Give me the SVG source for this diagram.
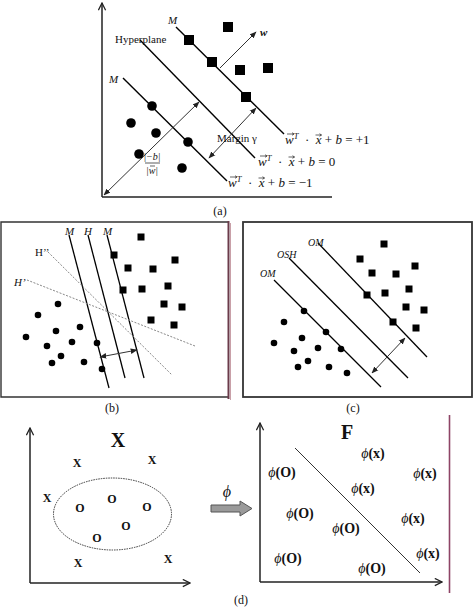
<svg xmlns="http://www.w3.org/2000/svg" width="474" height="610" viewBox="0 0 474 610">
  <style>
    .serif { font-family: "Liberation Serif", "DejaVu Serif", serif; fill: #111; }
    .it { font-style: italic; }
    .bold { font-weight: bold; }
    .axis { stroke: #222; stroke-width: 1.5; fill: none; }
    .thin { stroke: #333; stroke-width: 1; fill: none; }
    .dots { stroke: #888; stroke-width: 1; stroke-dasharray: 2 1.5; fill: none; }
    .sq { fill: #000; }
    .pt { fill: #000; }
    .frame { fill: none; stroke: #333; stroke-width: 1.8; }
    .vec { stroke: #222; stroke-width: 0.7; fill: none; }
  </style>
  <defs>
    <marker id="head" viewBox="0 0 10 10" refX="9" refY="5" markerWidth="7" markerHeight="7" orient="auto-start-reverse" markerUnits="userSpaceOnUse">
      <path d="M0,1 L10,5 L0,9 Z" fill="#222"/>
    </marker>
    <marker id="open" viewBox="0 0 10 10" refX="9" refY="5" markerWidth="9" markerHeight="9" orient="auto" markerUnits="userSpaceOnUse">
      <path d="M1,1 L9,5 L1,9" fill="none" stroke="#222" stroke-width="1.4"/>
    </marker>
  </defs>

  <rect width="474" height="610" fill="#fff"/>

  <!-- (a) maximum-margin hyperplane -->
  <g id="panel-a">
    <line class="axis" x1="102" y1="197" x2="102" y2="3" marker-end="url(#open)"/>
    <line class="axis" x1="102" y1="197" x2="332" y2="197"/>

    <g id="a-lines" stroke="#000" stroke-width="1.4">
      <line x1="176" y1="27" x2="284" y2="134"/>
      <line x1="140" y1="40" x2="255" y2="158"/>
      <line x1="123" y1="78" x2="227" y2="181"/>
    </g>
    <g id="a-arrows">
      <line class="thin" x1="220" y1="68" x2="256" y2="32" marker-end="url(#head)"/>
      <line class="thin" x1="104" y1="195" x2="199" y2="102" marker-start="url(#head)" marker-end="url(#head)"/>
      <line class="thin" x1="209" y1="158" x2="256" y2="108" marker-start="url(#head)" marker-end="url(#head)"/>
    </g>
    <g id="a-squares">
      <rect class="sq" x="184" y="35" width="10" height="10"/>
      <rect class="sq" x="223" y="22" width="10" height="10"/>
      <rect class="sq" x="207" y="57" width="10" height="10"/>
      <rect class="sq" x="235" y="65" width="10" height="10"/>
      <rect class="sq" x="263" y="63" width="10" height="10"/>
      <rect class="sq" x="241" y="92" width="10" height="10"/>
    </g>
    <g id="a-circles">
      <circle class="pt" cx="152" cy="106" r="4.8"/>
      <circle class="pt" cx="131" cy="123" r="4.8"/>
      <circle class="pt" cx="156" cy="133" r="4.8"/>
      <circle class="pt" cx="188" cy="142" r="4.8"/>
      <circle class="pt" cx="139" cy="154" r="4.8"/>
      <circle class="pt" cx="182" cy="168" r="4.8"/>
    </g>
    <g id="a-labels" font-size="11">
      <text class="serif it" x="168" y="24">M</text>
      <text class="serif" x="115" y="43">Hyperplane</text>
      <text class="serif it" x="109" y="83">M</text>
      <text class="serif it bold" x="260" y="36">w</text>
      <text class="serif" x="217" y="142">Margin γ</text>
      <!-- |−b| / |w| -->
      <text class="serif it" x="152" y="160" text-anchor="middle" font-size="10">|−b|</text>
      <line stroke="#333" stroke-width="0.8" x1="145" y1="163" x2="160" y2="163"/>
      <text class="serif it" x="152" y="174" text-anchor="middle" font-size="10">|w|</text>
      <line class="vec" x1="150" y1="166" x2="155" y2="166"/>
    </g>
    <g id="a-equations" font-size="13">
      <text class="serif it" x="285" y="144" xml:space="preserve">w<tspan font-size="8.5" dy="-5">T</tspan><tspan dy="5" font-style="normal">  ·  </tspan>x<tspan font-style="normal"> + </tspan>b<tspan font-style="normal"> = +1</tspan></text>
      <text class="serif it" x="258" y="166" xml:space="preserve">w<tspan font-size="8.5" dy="-5">T</tspan><tspan dy="5" font-style="normal">  ·  </tspan>x<tspan font-style="normal"> + </tspan>b<tspan font-style="normal"> = 0</tspan></text>
      <text class="serif it" x="228" y="187" xml:space="preserve">w<tspan font-size="8.5" dy="-5">T</tspan><tspan dy="5" font-style="normal">  ·  </tspan>x<tspan font-style="normal"> + </tspan>b<tspan font-style="normal"> = −1</tspan></text>
      <!-- vector arrows over w and x -->
      <g class="vec">
        <path d="M287,134 h7 m-2,-1.3 l2,1.3 l-2,1.3"/>
        <path d="M315.5,135 h6 m-2,-1.3 l2,1.3 l-2,1.3"/>
        <path d="M260,156 h7 m-2,-1.3 l2,1.3 l-2,1.3"/>
        <path d="M288.5,157 h6 m-2,-1.3 l2,1.3 l-2,1.3"/>
        <path d="M230,177 h7 m-2,-1.3 l2,1.3 l-2,1.3"/>
        <path d="M258.5,178 h6 m-2,-1.3 l2,1.3 l-2,1.3"/>
      </g>
    </g>
    <text class="serif" x="220" y="215" font-size="12" text-anchor="middle">(a)</text>
  </g>

  <!-- (b) candidate separating hyperplanes -->
  <g id="panel-b">
    <polyline fill="none" stroke="#333" stroke-width="1.4" points="228,222 1,222 1,397 228,397"/>
    <line x1="228.5" y1="221" x2="228.5" y2="399" stroke="#6b3b4a" stroke-width="2"/>
    <line x1="230.5" y1="223" x2="230.5" y2="400" stroke="#c9a0a8" stroke-width="1"/>
    <g id="b-lines" stroke="#000" stroke-width="1.3">
      <line x1="69" y1="235" x2="109" y2="388"/>
      <line x1="88" y1="235" x2="125" y2="378"/>
      <line x1="107" y1="235" x2="144" y2="378"/>
    </g>
    <line class="dots" x1="48" y1="252" x2="172" y2="375"/>
    <line class="dots" x1="27" y1="280" x2="195" y2="346"/>
    <line class="thin" x1="100" y1="357" x2="137" y2="350" marker-start="url(#head)" marker-end="url(#head)"/>
    <g id="b-labels" font-size="11">
      <text class="serif it" x="65" y="235">M</text>
      <text class="serif it" x="84" y="235">H</text>
      <text class="serif it" x="103" y="235">M</text>
      <text class="serif" x="35" y="256">H’’</text>
      <text class="serif it" x="14" y="286">H’</text>
    </g>
    <g id="b-squares">
      <rect class="sq" x="137.5" y="233.5" width="7" height="7"/>
      <rect class="sq" x="110.5" y="251.5" width="7" height="7"/>
      <rect class="sq" x="124.5" y="264.5" width="7" height="7"/>
      <rect class="sq" x="149.5" y="265.5" width="7" height="7"/>
      <rect class="sq" x="171.5" y="256.5" width="7" height="7"/>
      <rect class="sq" x="119.5" y="286.5" width="7" height="7"/>
      <rect class="sq" x="138.5" y="285.5" width="7" height="7"/>
      <rect class="sq" x="164.5" y="282.5" width="7" height="7"/>
      <rect class="sq" x="160.5" y="300.5" width="7" height="7"/>
      <rect class="sq" x="178.5" y="303.5" width="7" height="7"/>
      <rect class="sq" x="147.5" y="316.5" width="7" height="7"/>
      <rect class="sq" x="170.5" y="321.5" width="7" height="7"/>
    </g>
    <g id="b-circles">
      <circle class="pt" cx="58" cy="304" r="3.3"/>
      <circle class="pt" cx="38" cy="315" r="3.3"/>
      <circle class="pt" cx="56" cy="331" r="3.3"/>
      <circle class="pt" cx="80" cy="327" r="3.3"/>
      <circle class="pt" cx="26" cy="337" r="3.3"/>
      <circle class="pt" cx="47" cy="346" r="3.3"/>
      <circle class="pt" cx="72" cy="342" r="3.3"/>
      <circle class="pt" cx="97" cy="343" r="3.3"/>
      <circle class="pt" cx="61" cy="356" r="3.3"/>
      <circle class="pt" cx="52" cy="363" r="3.3"/>
      <circle class="pt" cx="84" cy="362" r="3.3"/>
      <circle class="pt" cx="102" cy="369" r="3.3"/>
    </g>
    <text class="serif" x="112" y="412" font-size="12" text-anchor="middle">(b)</text>
  </g>

  <!-- (c) optimal separating hyperplane -->
  <g id="panel-c">
    <rect class="frame" x="243" y="222" width="229" height="175"/>
    <g id="c-lines" stroke="#000" stroke-width="1.3">
      <line x1="318" y1="243" x2="427" y2="357"/>
      <line x1="289" y1="258" x2="408" y2="378"/>
      <line x1="274" y1="280" x2="381" y2="387"/>
    </g>
    <line class="thin" x1="372" y1="373" x2="405" y2="338" marker-start="url(#head)" marker-end="url(#head)"/>
    <g id="c-labels" font-size="10">
      <text class="serif it" x="308" y="246">OM</text>
      <text class="serif it" x="277" y="258">OSH</text>
      <text class="serif it" x="260" y="277">OM</text>
    </g>
    <g id="c-squares">
      <rect class="sq" x="380.5" y="240.5" width="7" height="7"/>
      <rect class="sq" x="356.5" y="255.5" width="7" height="7"/>
      <rect class="sq" x="368.5" y="269.5" width="7" height="7"/>
      <rect class="sq" x="392.5" y="270.5" width="7" height="7"/>
      <rect class="sq" x="411.5" y="262.5" width="7" height="7"/>
      <rect class="sq" x="363.5" y="291.5" width="7" height="7"/>
      <rect class="sq" x="381.5" y="289.5" width="7" height="7"/>
      <rect class="sq" x="405.5" y="285.5" width="7" height="7"/>
      <rect class="sq" x="402.5" y="303.5" width="7" height="7"/>
      <rect class="sq" x="420.5" y="306.5" width="7" height="7"/>
      <rect class="sq" x="389.5" y="318.5" width="7" height="7"/>
      <rect class="sq" x="412.5" y="324.5" width="7" height="7"/>
    </g>
    <g id="c-circles">
      <circle class="pt" cx="304" cy="311" r="3.3"/>
      <circle class="pt" cx="284" cy="322" r="3.3"/>
      <circle class="pt" cx="326" cy="332" r="3.3"/>
      <circle class="pt" cx="274" cy="343" r="3.3"/>
      <circle class="pt" cx="302" cy="338" r="3.3"/>
      <circle class="pt" cx="318" cy="348" r="3.3"/>
      <circle class="pt" cx="341" cy="349" r="3.3"/>
      <circle class="pt" cx="294" cy="351" r="3.3"/>
      <circle class="pt" cx="308" cy="361" r="3.3"/>
      <circle class="pt" cx="298" cy="367" r="3.3"/>
      <circle class="pt" cx="329" cy="367" r="3.3"/>
      <circle class="pt" cx="347" cy="373" r="3.3"/>
    </g>
    <text class="serif" x="353" y="412" font-size="12" text-anchor="middle">(c)</text>
  </g>

  <!-- (d) input space X mapped by phi into feature space F -->
  <g id="panel-d-input">
    <line class="axis" x1="30" y1="583" x2="30" y2="428" marker-end="url(#open)"/>
    <line class="axis" x1="30" y1="583" x2="190" y2="583" marker-end="url(#open)"/>
    <text class="serif bold" x="118" y="447" font-size="20" text-anchor="middle">X</text>
    <g font-size="12" text-anchor="middle">
      <text class="serif bold" x="77" y="467">X</text>
      <text class="serif bold" x="152" y="464">X</text>
      <text class="serif bold" x="47" y="502">X</text>
      <text class="serif bold" x="78" y="567">X</text>
      <text class="serif bold" x="168" y="563">X</text>
    </g>
    <ellipse cx="112.5" cy="514" rx="59" ry="36" fill="none" stroke="#333" stroke-width="1" stroke-dasharray="1.5 1"/>
    <g font-size="12" text-anchor="middle">
      <text class="serif bold" x="80" y="512">O</text>
      <text class="serif bold" x="112" y="503">O</text>
      <text class="serif bold" x="147" y="511">O</text>
      <text class="serif bold" x="126" y="530">O</text>
      <text class="serif bold" x="97" y="542">O</text>
    </g>
  </g>

  <g id="phi-map">
    <text class="serif it" x="227" y="497" font-size="16" text-anchor="middle">ϕ</text>
    <polygon points="211,505 240,505 240,501 252,508.5 240,516 240,512 211,512" fill="#9a9a9a" stroke="#555" stroke-width="1"/>
  </g>

  <g id="panel-d-feature">
    <line class="axis" x1="260" y1="582" x2="260" y2="423" marker-end="url(#open)"/>
    <line class="axis" x1="260" y1="582" x2="442" y2="582" marker-end="url(#open)"/>
    <text class="serif bold" x="347" y="439" font-size="20" text-anchor="middle">F</text>
    <line x1="295" y1="448" x2="420" y2="573" stroke="#333" stroke-width="1"/>
    <g font-size="14" text-anchor="middle">
      <text class="serif" x="373" y="458"><tspan class="it">ϕ</tspan><tspan class="bold">(x)</tspan></text>
      <text class="serif" x="425" y="478"><tspan class="it">ϕ</tspan><tspan class="bold">(x)</tspan></text>
      <text class="serif" x="363" y="493"><tspan class="it">ϕ</tspan><tspan class="bold">(x)</tspan></text>
      <text class="serif" x="413" y="523"><tspan class="it">ϕ</tspan><tspan class="bold">(x)</tspan></text>
      <text class="serif" x="428" y="558"><tspan class="it">ϕ</tspan><tspan class="bold">(x)</tspan></text>
      <text class="serif" x="282" y="477"><tspan class="it">ϕ</tspan><tspan class="bold">(O)</tspan></text>
      <text class="serif" x="300" y="518"><tspan class="it">ϕ</tspan><tspan class="bold">(O)</tspan></text>
      <text class="serif" x="346" y="533"><tspan class="it">ϕ</tspan><tspan class="bold">(O)</tspan></text>
      <text class="serif" x="288" y="563"><tspan class="it">ϕ</tspan><tspan class="bold">(O)</tspan></text>
      <text class="serif" x="372" y="573"><tspan class="it">ϕ</tspan><tspan class="bold">(O)</tspan></text>
    </g>
    <line x1="449.5" y1="415" x2="449.5" y2="593" stroke="#8e4466" stroke-width="1.6"/>
  </g>

  <text class="serif" x="241" y="604" font-size="12" text-anchor="middle">(d)</text>
</svg>
